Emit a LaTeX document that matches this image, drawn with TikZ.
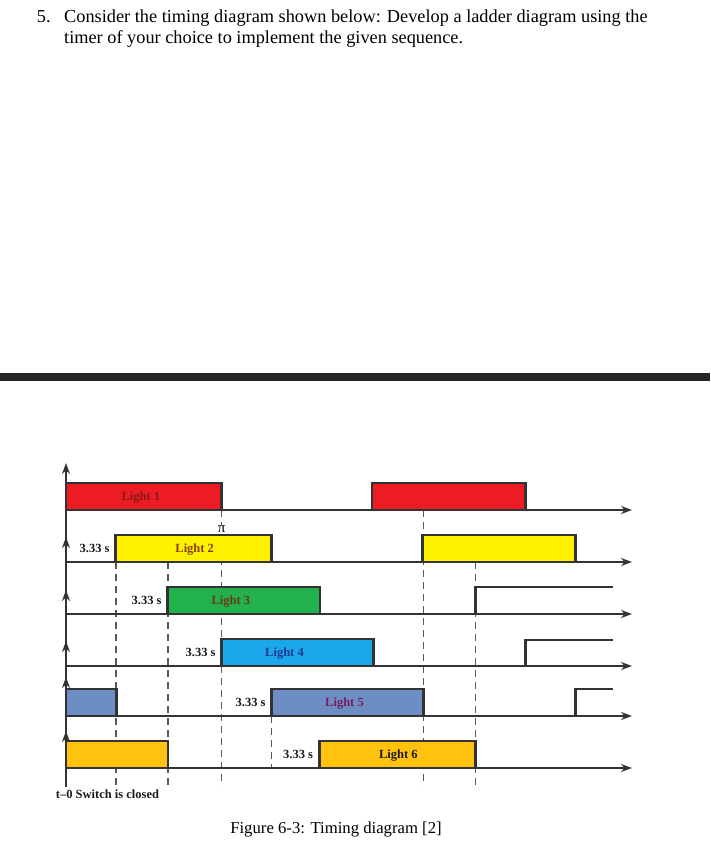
\documentclass[tikz,border=0pt]{standalone}
\usepackage{fontspec}
\setmainfont{Liberation Serif}
\usetikzlibrary{arrows.meta, positioning}

\definecolor{lampred}{HTML}{ED1C24}
\definecolor{lampyellow}{HTML}{FFF200}
\definecolor{lampgreen}{HTML}{22B14C}
\definecolor{lampcyan}{HTML}{1AA7EC}
\definecolor{lampsteel}{HTML}{6C8EC4}
\definecolor{lampamber}{HTML}{FFC20E}
\definecolor{edgegray}{HTML}{333333}
\definecolor{namered}{HTML}{8B1A1A}
\definecolor{namebrown}{HTML}{8A3A10}
\definecolor{nameolive}{HTML}{6B3A1A}
\definecolor{nameblue}{HTML}{1F3A8F}
\definecolor{nameplum}{HTML}{7A1E5C}

\tikzset{
  asktext/.style = {font=\fontsize{18.3}{22}\selectfont, inner sep=0pt, anchor=base west},
  lamp/.style = {draw=edgegray, line width=2.6pt, inner sep=0pt, outer sep=0pt,
                 minimum height=27pt, anchor=south west},
  stepline/.style = {draw=edgegray, line width=2.6pt},
  timeline/.style = {draw=edgegray, line width=1.6pt, -{Stealth[length=11pt, width=8pt]}},
  guide/.style = {draw=black!65, line width=1.2pt, dash pattern=on 7pt off 5pt},
  delay/.style = {font=\fontsize{12.5}{14}\selectfont\bfseries, text=black!90, inner sep=0pt},
  lampname/.style = {font=\fontsize{12.5}{14}\selectfont\bfseries, inner sep=0pt, text depth=0pt}
}

\begin{document}
\begin{tikzpicture}[x=1pt, y=-1pt]
\useasboundingbox (0,0) rectangle (710,861);

\node (num) [asktext] at (36.7,22.7) {5.};
\node (ask1) [asktext] at (64,22.7) {Consider the timing diagram shown below: Develop a ladder diagram using the};
\node (ask2) [asktext, below = 20.6pt of ask1.base west, anchor=base west] {timer of your choice to implement the given sequence.};

\fill [black!85] (0,373) rectangle (710,381);

\draw [guide] (116,562) -- (116,786);
\draw [guide] (168,562) -- (168,786);
\draw [guide] (221.7,510) -- (221.7,786);
\draw [guide] (271.7,716) -- (271.7,767);
\draw [guide] (423.3,510) -- (423.3,786);
\draw [guide] (475.3,562) -- (475.3,786);

\node (red1) [lamp, fill=lampred, minimum width=155.7pt] at (66,510) {};
\node (red2) [lamp, fill=lampred, minimum width=153.7pt] at (372,510) {};
\node (yel1) [lamp, fill=lampyellow, minimum width=156pt] at (115.7,562) {};
\node (yel2) [lamp, fill=lampyellow, minimum width=153pt] at (422.7,562) {};
\node (grn1) [lamp, fill=lampgreen, minimum width=152.3pt] at (167.7,614) {};
\node (cyn1) [lamp, fill=lampcyan, minimum width=151.6pt] at (221.7,666) {};
\node (stl1) [lamp, fill=lampsteel, minimum width=50.3pt] at (66,716) {};
\node (stl2) [lamp, fill=lampsteel, minimum width=151.6pt] at (271.7,716) {};
\node (amb1) [lamp, fill=lampamber, minimum width=102pt] at (66,768) {};
\node (amb2) [lamp, fill=lampamber, minimum width=156pt] at (319.3,768) {};

\draw [stepline] (475.3,614) -- (475.3,587) -- (612.7,587);
\draw [stepline] (525.3,666) -- (525.3,640) -- (612.7,640);
\draw [stepline] (575.3,716) -- (575.3,689) -- (612.7,689);

\coordinate (o1) at (66,510);  \coordinate (e1) at (632,510);
\coordinate (o2) at (66,562);  \coordinate (e2) at (632,562);
\coordinate (o3) at (66,614);  \coordinate (e3) at (632,614);
\coordinate (o4) at (66,666);  \coordinate (e4) at (632,666);
\coordinate (o5) at (66,716);  \coordinate (e5) at (632,716);
\coordinate (o6) at (66,768);  \coordinate (e6) at (632,768);
\coordinate (bot) at (66,787);
\coordinate (a1) at (66,463);
\coordinate (a2) at (66,537);
\coordinate (a3) at (66,590);
\coordinate (a4) at (66,641);
\coordinate (a5) at (66,677);
\coordinate (a6) at (66,731);

\draw [timeline] (o1) -- (e1);
\draw [timeline] (o2) -- (e2);
\draw [timeline] (o3) -- (e3);
\draw [timeline] (o4) -- (e4);
\draw [timeline] (o5) -- (e5);
\draw [timeline] (o6) -- (e6);

\draw [timeline] (bot) -- (a1);
\draw [timeline] (o2) -- (a2);
\draw [timeline] (o3) -- (a3);
\draw [timeline] (o4) -- (a4);
\draw [timeline] (o5) -- (a5);
\draw [timeline] (o6) -- (a6);

\node (n1) [lampname, text=namered, xshift=-3pt] at (red1) {Light 1};
\node (n2) [lampname, text=namebrown, xshift=1pt] at (yel1) {Light 2};
\node (n3) [lampname, text=nameolive, xshift=-13pt] at (grn1) {Light 3};
\node (n4) [lampname, text=nameblue, xshift=-13pt] at (cyn1) {Light 4};
\node (n5) [lampname, text=nameplum, xshift=-3pt] at (stl2) {Light 5};
\node (n6) [lampname, text=black!90, xshift=1pt] at (amb2) {Light 6};

\node (d2) [delay, left = 6pt of yel1] {3.33 s};
\node (d3) [delay, left = 6pt of grn1] {3.33 s};
\node (d4) [delay, left = 6pt of cyn1] {3.33 s};
\node (d5) [delay, left = 6pt of stl2] {3.33 s};
\node (d6) [delay, left = 6pt of amb2] {3.33 s};

\node (tm) [font=\fontsize{15}{16}\selectfont, fill=white, inner sep=0.5pt] at (221.7,529) {π};
\node (t0) [delay, anchor=base west] at (55.7,798) {t–0 Switch is closed};
\node (cap) [font=\fontsize{16.7}{20}\selectfont, inner sep=0pt, anchor=base] at (336,833) {Figure 6-3: Timing diagram [2]};

\end{tikzpicture}
\end{document}
